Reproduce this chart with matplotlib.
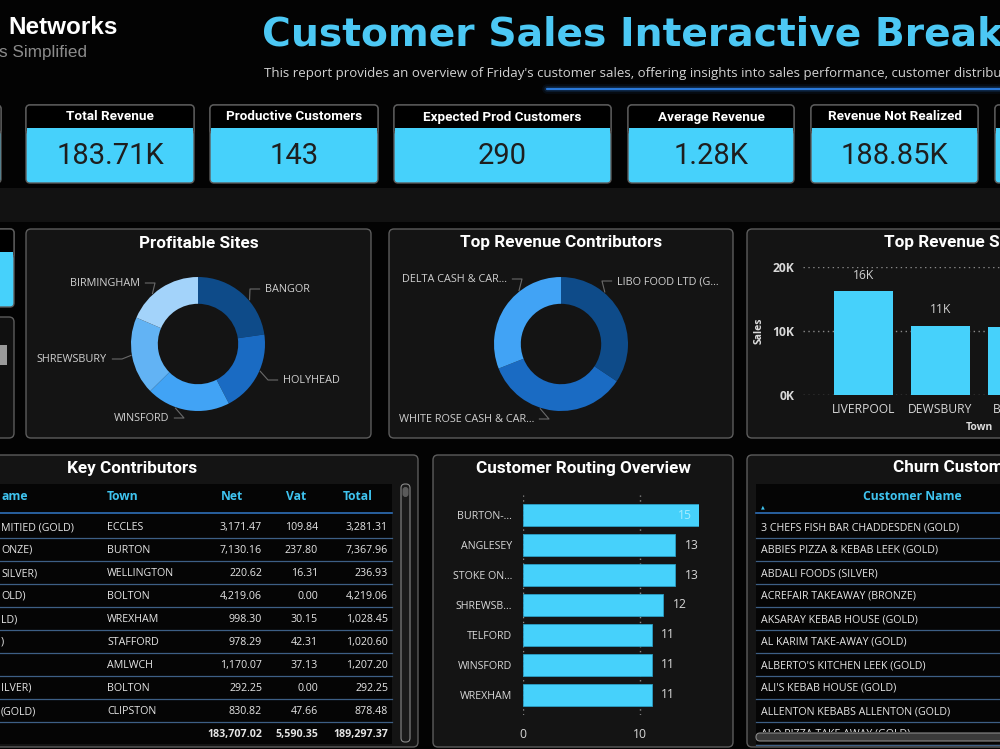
import numpy as np
import matplotlib.pyplot as plt
from matplotlib.patches import FancyBboxPatch, Rectangle

W, H = 1000, 749

# ---- data ----
kpi_titles = ["Total Revenue", "Productive Customers", "Expected Prod Customers",
              "Average Revenue", "Revenue Not Realized"]
kpi_values = ["183.71K", "143", "290", "1.28K", "188.85K"]

site_names = ["BANGOR", "HOLYHEAD", "WINSFORD", "SHREWSBURY", "BIRMINGHAM"]
site_sales = [4.10, 3.55, 3.65, 3.40, 3.35]      # K

contrib_names = ["LIBO FOOD LTD (G...", "WHITE ROSE CASH & CAR...", "DELTA CASH & CAR..."]
contrib_sales = [34.4, 34.7, 31.0]

town_names = ["LIVERPOOL", "DEWSBURY", "BOLTON"]
town_sales = [16200, 10800, 10700]

route_names = ["BURTON-...", "ANGLESEY", "STOKE ON...", "SHREWSB...",
               "TELFORD", "WINSFORD", "WREXHAM"]
route_counts = [15, 13, 13, 12, 11, 11, 11]

kc_names = ["MITIED (GOLD)", "ONZE)", "SILVER)", "OLD)", "LD)", ")", "", "ILVER)", "(GOLD)"]
kc_towns = ["ECCLES", "BURTON", "WELLINGTON", "BOLTON", "WREXHAM", "STAFFORD",
            "AMLWCH", "BOLTON", "CLIPSTON"]
kc_net = [3171.47, 7130.16, 220.62, 4219.06, 998.30, 978.29, 1170.07, 292.25, 830.82]
kc_vat = [109.84, 237.80, 16.31, 0.00, 30.15, 42.31, 37.13, 0.00, 47.66]
kc_total = [3281.31, 7367.96, 236.93, 4219.06, 1028.45, 1020.60, 1207.20, 292.25, 878.48]
kc_sums = [183707.02, 5590.35, 189297.37]

churn_names = ["3 CHEFS FISH BAR CHADDESDEN (GOLD)", "ABBIES PIZZA & KEBAB LEEK (GOLD)",
               "ABDALI FOODS (SILVER)", "ACREFAIR TAKEAWAY (BRONZE)",
               "AKSARAY KEBAB HOUSE (GOLD)", "AL KARIM TAKE-AWAY (GOLD)",
               "ALBERTO'S KITCHEN LEEK (GOLD)", "ALI'S KEBAB HOUSE (GOLD)",
               "ALLENTON KEBABS ALLENTON (GOLD)", "ALO PIZZA TAKE AWAY (GOLD)"]

# ---- styles ----
CYAN = "#46d1fb"
PANEL = "#141414"
EDGE = "#5c5c5c"
TXT = "#e6e6e6"
HEAD = "#3fc4f0"
SEP = "#3d5f85"
site_colors = ["#0e4b89", "#1a6bc3", "#41a3f5", "#62b3f4", "#a3d3fa"]
contrib_colors = ["#0e4b89", "#1a6bc3", "#41a3f5"]
TF = "Roboto"          # titles / kpis
BF = "Open Sans"       # table / label text

fig = plt.figure(figsize=(10, 7.49), dpi=100, facecolor="#030303")
bg = fig.add_axes([0, 0, 1, 1])
bg.set_xlim(0, W)
bg.set_ylim(H, 0)
bg.axis("off")
renderer = fig.canvas.get_renderer()


def px_axes(x0, y0, x1, y1):
    ax = fig.add_axes([x0 / W, 1 - y1 / H, (x1 - x0) / W, (y1 - y0) / H])
    ax.set_facecolor("none")
    return ax


def rbox(x0, y0, x1, y1, fc, ec="none", lw=1.0, r=5, z=1):
    bg.add_patch(FancyBboxPatch((x0, y0), x1 - x0, y1 - y0,
                                boxstyle=f"round,pad=0,rounding_size={r}",
                                fc=fc, ec=ec, lw=lw, zorder=z))


def rect(x0, y0, x1, y1, fc, z=1):
    bg.add_patch(Rectangle((x0, y0), x1 - x0, y1 - y0, fc=fc, ec="none", zorder=z))


def fit_size(text, target, family, weight="normal", start=20):
    t = bg.text(0, 0, text, fontsize=start, family=family, weight=weight)
    w = t.get_window_extent(renderer).width
    t.remove()
    return start * target / w


# ---- header ----
bg.text(8, 27, "Networks", color="white", fontsize=17.5, weight="bold",
        family="Liberation Sans", va="center", ha="left")
bg.text(-1, 52, "s Simplified", color="#8c8c8c", fontsize=12.3,
        family="Liberation Sans", va="center", ha="left")

title = "Customer Sales Interactive Breakdown"
ts = fit_size("Customer Sales Interactive Break", 742, "DejaVu Sans", "bold")
bg.text(262, 34, title, color="#4cc8f4", fontsize=ts, weight="bold",
        family="DejaVu Sans", va="center", ha="left")

sub = ("This report provides an overview of Friday's customer sales, offering insights "
       "into sales performance, customer distribution and key trends.")
ss = fit_size(sub.split("distribut")[0] + "distribut", 736, BF)
bg.text(264, 73, sub, color="#d2d2d2", fontsize=ss, family=BF, va="center", ha="left")

for lw, a in [(7, 0.08), (4, 0.18), (1.6, 1.0)]:
    bg.plot([547, 1005], [89, 89], color="#2a78d8", lw=lw, alpha=a,
            solid_capstyle="round", zorder=2)

# ---- KPI cards ----
rect(0, 188, W, 222, "#121212", z=0)
card_x = [(26, 194), (210, 378), (394, 611), (628, 794), (811, 978)]


def kpi_card(x0, x1, y0, y1, yh, t=None, v=None):
    rbox(x0, y0, x1, y1, CYAN, EDGE, 1.0, 4, 2)
    rbox(x0, y0, x1, yh + 6, "#000000", EDGE, 1.0, 4, 3)
    rect(x0 + 0.8, yh, x1 - 0.8, yh + 8, CYAN, z=4)
    if t is not None:
        bg.text((x0 + x1) / 2, (y0 + yh) / 2 + 0.5, t, color="white", fontsize=9.7,
                weight="bold", family=TF, ha="center", va="center", zorder=5)
    if v is not None:
        bg.text((x0 + x1) / 2, (yh + y1) / 2 + 0.5, v, color="#1e1e1e", fontsize=21,
                family=TF, ha="center", va="center", zorder=5)


for (x0, x1), t, v in zip(card_x, kpi_titles, kpi_values):
    kpi_card(x0, x1, 105, 183, 128, t, v)
kpi_card(-170, 1, 105, 183, 128)
kpi_card(995, 1160, 105, 183, 128)

# left partial slicers
kpi_card(-150, 14, 229, 307, 252)
rbox(-150, 317, 14, 438, "#101010", EDGE, 1.0, 5, 2)
rect(-5, 345, 7, 365, "#9a9a9a", z=3)

# ---- panels ----
for x0, x1 in [(26, 371), (389, 733), (747, 1100)]:
    rbox(x0, 229, x1, 438, PANEL, EDGE, 1.0, 5, 1)
for x0, x1 in [(-20, 418), (433, 733), (747, 1100)]:
    rbox(x0, 455, x1, 747, PANEL, EDGE, 1.0, 5, 1)

tkw = dict(color="white", fontsize=12.3, weight="bold", family=TF, va="center", zorder=6)
bg.text(199, 243, "Profitable Sites", ha="center", **tkw)
bg.text(561, 243, "Top Revenue Contributors", ha="center", **tkw)
bg.text(884, 243, "Top Revenue Sites", ha="left", **tkw)
bg.text(132, 468, "Key Contributors", ha="center", **tkw)
bg.text(584, 468, "Customer Routing Overview", ha="center", **tkw)
bg.text(893, 468, "Churn Customers", ha="left", **tkw)


# ---- donuts ----
def donut(cx, cy, r, vals, cols, names, anchors):
    ax = px_axes(cx - r, cy - r, cx + r, cy + r)
    ax.pie(vals, colors=cols, startangle=90, counterclock=False, radius=1,
           wedgeprops=dict(width=0.4, edgecolor="none"))
    ax.set_xlim(-1, 1)
    ax.set_ylim(-1, 1)
    ax.set_aspect("auto")
    ax.axis("off")
    edges = np.concatenate([[0], np.cumsum(vals)]) / np.sum(vals) * 360
    for i, (name, (ax_, ay_, side)) in enumerate(zip(names, anchors)):
        ang = np.degrees(np.arctan2(ax_ - cx, -(ay_ - cy))) % 360
        ang = min(max(ang, edges[i] + 6), edges[i + 1] - 6)
        px = cx + (r + 1) * np.sin(np.radians(ang))
        py = cy - (r + 1) * np.cos(np.radians(ang))
        d = 12 if side == "left" else -12
        bg.plot([px, ax_ - d, ax_ - d * 0.2], [py, ay_, ay_], color="#6a6a6a",
                lw=0.8, zorder=5)
        bg.text(ax_ + (3 if side == "left" else -3), ay_ + 0.5, name, color="#d0d0d0",
                fontsize=7.8, family=BF, ha=side, va="center", zorder=6)


donut(198, 344, 67, site_sales, site_colors, site_names,
      [(262, 289, "left"), (280, 380, "left"), (172, 418, "right"),
       (110, 359, "right"), (143, 283, "right")])
donut(561, 344, 67, contrib_sales, contrib_colors, contrib_names,
      [(614, 281, "left"), (537, 419, "right"), (510, 279, "right")])

# ---- top revenue sites bar chart ----
ax = px_axes(803, 267, 1155, 395)
x = np.arange(len(town_names))
ax.bar(x, town_sales, width=0.77, color=CYAN, zorder=3)
ax.set_xlim(-0.786, 3.786)
ax.set_ylim(0, 20000)
ax.set_yticks([0, 10000, 20000])
ax.set_yticklabels(["0K", "10K", "20K"])
ax.set_xticks(x)
ax.set_xticklabels(town_names)
ax.grid(axis="y", color="#8a8a8a", ls=(0, (1, 2.5)), lw=1)
for s in ax.spines.values():
    s.set_visible(False)
ax.tick_params(length=0, colors="#d8d8d8", labelsize=8.7, pad=6)
for lab in ax.get_yticklabels() + ax.get_xticklabels():
    lab.set_family(BF)
for lab in ax.get_yticklabels():
    lab.set_weight("bold")
ax.set_ylabel("Sales", color="#dcdcdc", fontsize=7.5, weight="bold", family=BF, labelpad=6)
ax.set_xlabel("Town", color="#dcdcdc", fontsize=7.5, weight="bold", family=BF, labelpad=4)
for xi, v in zip(x, town_sales):
    ax.annotate(f"{v / 1000:.0f}K", (xi, v), xytext=(0, 7), textcoords="offset points",
                ha="center", va="bottom", color="#d0d0d0", fontsize=8.7, family=BF)

# ---- routing bar chart ----
ax = px_axes(523, 495, 698.5, 715)
y = np.arange(len(route_names))
ax.barh(y, route_counts, height=0.73, color=CYAN, edgecolor="#2b9fc6", lw=0.6, zorder=3)
ax.set_xlim(0, 15)
ax.set_ylim(len(route_names) - 0.33, -0.67)
ax.set_xticks([0, 10])
ax.set_yticks(y)
ax.set_yticklabels(route_names)
ax.grid(axis="x", color="#8a8a8a", ls=(0, (1, 2.5)), lw=1)
for s in ax.spines.values():
    s.set_visible(False)
ax.tick_params(axis="y", length=0, colors="#d8d8d8", labelsize=7.7, pad=8)
ax.tick_params(axis="x", length=0, colors="#d8d8d8", labelsize=8.7, pad=9)
for lab in ax.get_yticklabels() + ax.get_xticklabels():
    lab.set_family(BF)
for yi, v in zip(y, route_counts):
    if v >= 0.95 * 15:
        ax.annotate(str(v), (v, yi), xytext=(-5, 0), textcoords="offset points",
                    ha="right", va="center", color="#a6ecff", fontsize=8.7, family=BF)
    else:
        ax.annotate(str(v), (v, yi), xytext=(7, 0), textcoords="offset points",
                    ha="left", va="center", color="#d8d8d8", fontsize=8.7, family=BF)

# ---- key contributors table ----
rect(-5, 484, 392, 744, "#050505", z=2)
row_y = [527.5 + 23 * i for i in range(len(kc_towns))]
hk = dict(color=HEAD, fontsize=8.7, weight="bold", family=BF, va="center", zorder=6)
bg.text(1, 496, "ame", ha="left", **hk)
bg.text(107, 496, "Town", ha="left", **hk)
bg.text(232, 496, "Net", ha="center", **hk)
bg.text(296, 496, "Vat", ha="center", **hk)
bg.text(358, 496, "Total", ha="center", **hk)
bg.plot([-5, 392], [513, 513], color="#2f6fb8", lw=1.2, zorder=5)
ck = dict(color=TXT, fontsize=7.7, family=BF, va="center", zorder=6)
for i, yy in enumerate(row_y):
    bg.text(1, yy, kc_names[i], ha="left", **ck)
    bg.text(107, yy, kc_towns[i], ha="left", **ck)
    bg.text(262, yy, f"{kc_net[i]:,.2f}", ha="right", **ck)
    bg.text(318, yy, f"{kc_vat[i]:,.2f}", ha="right", **ck)
    bg.text(388, yy, f"{kc_total[i]:,.2f}", ha="right", **ck)
    bg.plot([-5, 392], [yy + 10, yy + 10], color=SEP, lw=0.9, zorder=5)
ty = row_y[-1] + 23
for xr, v in zip([262, 318, 388], kc_sums):
    bg.text(xr, ty, f"{v:,.2f}", ha="right", weight="bold", **ck)
rbox(401, 484, 410, 742, "#1a1a1a", "#8a8a8a", 0.8, 4, 6)
rbox(402.5, 487, 408.5, 497, "#5a5a5a", "none", 0, 3, 7)

# ---- churn customers table ----
rect(756, 484, 1005, 744, "#050505", z=2)
bg.text(912, 496, "Customer Name", ha="center", **hk)
bg.text(763, 507, "\u25b2", color=HEAD, fontsize=3.5, ha="center", va="center", zorder=6)
bg.plot([756, 1005], [513, 513], color="#2f6fb8", lw=1.2, zorder=5)
for i, name in enumerate(churn_names):
    yy = 527.5 + 23 * i
    bg.text(761, yy, name, ha="left", **ck)
    bg.plot([756, 1005], [yy + 10, yy + 10], color=SEP, lw=0.9, zorder=5)
rect(756, 731.5, 1005, 744, "#050505", z=7)
rbox(756, 733, 1010, 741, "#3a3a3a", "#8a8a8a", 0.8, 4, 8)

fig.savefig("out.png", dpi=100, facecolor=fig.get_facecolor())
